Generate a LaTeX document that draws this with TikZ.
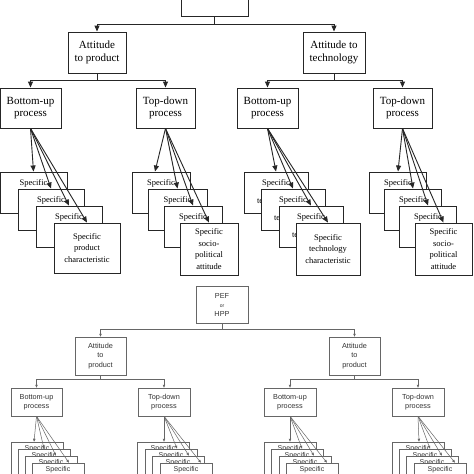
\documentclass[tikz,border=0pt]{standalone}
\usepackage{fontspec}
\setmainfont{Liberation Serif}
\newfontfamily\sansf{Liberation Sans}
\usetikzlibrary{arrows.meta}
\newcommand{\techstub}{\rlap{te}\phantom{technology}}
\begin{document}
\begin{tikzpicture}[x=1pt,y=-1pt,
  box/.style={draw=black!85, fill=white, line width=0.9pt, inner sep=0pt, align=center, font=\fontsize{11}{12.5}\selectfont},
  sbox/.style={box, font=\fontsize{8.5}{11.5}\selectfont},
  sback/.style={sbox, minimum height=41pt, text height=6pt, text depth=21pt},
  tback/.style={sbox, minimum height=41pt},
  line/.style={draw=black!85, line width=0.9pt},
  arr/.style={line, -{Triangle[length=6pt,width=5pt]}},
  bbox/.style={draw=black!60, fill=white, line width=0.5pt, inner sep=0pt, align=center, text=black!80, font=\sansf\fontsize{7.3}{9.5}\selectfont},
  qback/.style={bbox, minimum width=52pt, minimum height=40pt, text height=5pt, text depth=29pt, font=\sansf\fontsize{7}{9}\selectfont},
  bline/.style={draw=black!60, line width=0.5pt},
  barr/.style={bline, -{Triangle[length=3pt,width=2.4pt]}}
]
\useasboundingbox (0,0) rectangle (474,474);
\clip (0,0) rectangle (474,474);
\fill[white] (0,0) rectangle (474,474);

% ---------- upper figure ----------
\node[box, minimum width=67pt, minimum height=32pt] (root) at (214.5,0) {};
\node[box, minimum width=58pt, minimum height=41pt] (ap) at (97,52.5) {Attitude\\to product};
\node[box, minimum width=62pt, minimum height=41pt] (at) at (334,52.5) {Attitude to\\technology};
\node[box, minimum width=61pt, minimum height=40pt] (bu1) at (30.5,108) {Bottom-up\\process};
\node[box, minimum width=59pt, minimum height=40pt] (td1) at (165.5,108) {Top-down\\process};
\node[box, minimum width=61pt, minimum height=40pt] (bu2) at (267.5,108) {Bottom-up\\process};
\node[box, minimum width=59pt, minimum height=40pt] (td2) at (402.5,108) {Top-down\\process};

\draw[line] (root.south) -- ++(0,8) coordinate (j0);
\draw[arr] (j0) -| (ap.north);
\draw[arr] (j0) -| (at.north);
\draw[line] (ap.south) -- ++(0,7) coordinate (j1);
\draw[arr] (j1) -| (bu1.north);
\draw[arr] (j1) -| (td1.north);
\draw[line] (at.south) -- ++(0,7) coordinate (j2);
\draw[arr] (j2) -| (bu2.north);
\draw[arr] (j2) -| (td2.north);

% product characteristics
\node[sback, minimum width=67pt] (p1) at (33.5,192.5) {Specific};
\node[sback, minimum width=66pt] (p2) at (51,209.5) {Specific};
\node[sback, minimum width=66pt] (p3) at (69,226.5) {Specific};
\node[sbox, minimum width=66pt, minimum height=50pt] (p4) at (87,248) {Specific\\product\\characteristic};
% socio-political (left)
\node[sback, minimum width=58pt] (s1) at (161,192.5) {Specific};
\node[sback, minimum width=59pt] (s2) at (177.5,209.5) {Specific};
\node[sback, minimum width=58pt] (s3) at (193,226.5) {Specific};
\node[sbox, minimum width=58pt, minimum height=52pt] (s4) at (209,249) {Specific\\socio-\\political\\attitude};
% technology characteristics
\node[tback, minimum width=64pt] (t1) at (276,192.5) {Specific\\[7pt]\techstub};
\node[tback, minimum width=64pt] (t2) at (293,209.5) {Specific\\[7pt]\techstub};
\node[tback, minimum width=64pt] (t3) at (311,226.5) {Specific\\[7pt]\techstub};
\node[sbox, minimum width=64pt, minimum height=52pt] (t4) at (328,249) {Specific\\technology\\characteristic};
% socio-political (right)
\node[sback, minimum width=57pt] (u1) at (398,192.5) {Specific};
\node[sback, minimum width=57pt] (u2) at (413,209.5) {Specific};
\node[sback, minimum width=57pt] (u3) at (428,226.5) {Specific};
\node[sbox, minimum width=57pt, minimum height=52pt] (u4) at (443.5,249) {Specific\\socio-\\political\\attitude};

\draw[arr] (bu1.south) -- (p1.north);
\draw[arr] (bu1.south) -- (p2.north);
\draw[arr] (bu1.south) -- (p3.north);
\draw[arr] (bu1.south) -- (p4.north);
\draw[arr] (td1.south) -- ([xshift=-6pt]s1.north);
\draw[arr] (td1.south) -- (s2.north);
\draw[arr] (td1.south) -- (s3.north);
\draw[arr] (td1.south) -- (s4.north);
\draw[arr] (bu2.south) -- (t1.north);
\draw[arr] (bu2.south) -- (t2.north);
\draw[arr] (bu2.south) -- (t3.north);
\draw[arr] (bu2.south) -- (t4.north);
\draw[arr] (td2.south) -- (u1.north);
\draw[arr] (td2.south) -- (u2.north);
\draw[arr] (td2.south) -- (u3.north);
\draw[arr] (td2.south) -- (u4.north);

% ---------- lower figure ----------
\node[bbox, minimum width=52pt, minimum height=37pt, font=\sansf\fontsize{7.3}{9}\selectfont] (pef) at (222,304.5) {PEF\\{\fontsize{5}{9}\selectfont or}\\HPP};
\node[bbox, minimum width=51pt, minimum height=38pt] (bap1) at (100.5,356) {Attitude\\to\\product};
\node[bbox, minimum width=51pt, minimum height=38pt] (bap2) at (354.5,356) {Attitude\\to\\product};
\node[bbox, minimum width=51pt, minimum height=28pt] (bbu1) at (36.5,402) {Bottom-up\\process};
\node[bbox, minimum width=52pt, minimum height=28pt] (btd1) at (164,402) {Top-down\\process};
\node[bbox, minimum width=52pt, minimum height=28pt] (bbu2) at (290,402) {Bottom-up\\process};
\node[bbox, minimum width=52pt, minimum height=28pt] (btd2) at (418,402) {Top-down\\process};

\draw[bline] (pef.south) -- ++(0,6) coordinate (k0);
\draw[barr] (k0) -| (bap1.north);
\draw[barr] (k0) -| (bap2.north);
\draw[bline] (bap1.south) -- ++(0,4) coordinate (k1);
\draw[barr] (k1) -| (bbu1.north);
\draw[barr] (k1) -| (btd1.north);
\draw[bline] (bap2.south) -- ++(0,4) coordinate (k2);
\draw[barr] (k2) -| (bbu2.north);
\draw[barr] (k2) -| (btd2.north);

\node[qback] (q1) at (37,462) {Specific};
\node[qback] (q2) at (44,469) {Specific};
\node[qback] (q3) at (51,476) {Specific};
\node[qback] (q4) at (58,483) {Specific};
\node[qback] (r1) at (163,462) {Specific};
\node[qback] (r2) at (171,469) {Specific};
\node[qback] (r3) at (178,476) {Specific};
\node[qback] (r4) at (186,483) {Specific};
\node[qback] (v1) at (290,462) {Specific};
\node[qback] (v2) at (297,469) {Specific};
\node[qback] (v3) at (305,476) {Specific};
\node[qback] (v4) at (312,483) {Specific};
\node[qback] (w1) at (418,462) {Specific};
\node[qback] (w2) at (425,469) {Specific};
\node[qback] (w3) at (432,476) {Specific};
\node[qback] (w4) at (440,483) {Specific};

\draw[barr] (bbu1.south) -- ([xshift=-3pt]q1.north);
\draw[barr] (bbu1.south) -- (q2.north);
\draw[barr] (bbu1.south) -- ([xshift=5pt]q3.north);
\draw[barr] (bbu1.south) -- ([xshift=11pt]q4.north);
\draw[barr] (btd1.south) -- ([xshift=1pt]r1.north);
\draw[barr] (btd1.south) -- ([xshift=6pt]r2.north);
\draw[barr] (btd1.south) -- ([xshift=11pt]r3.north);
\draw[barr] (btd1.south) -- ([xshift=15pt]r4.north);
\draw[barr] (bbu2.south) -- (v1.north);
\draw[barr] (bbu2.south) -- ([xshift=5pt]v2.north);
\draw[barr] (bbu2.south) -- ([xshift=9pt]v3.north);
\draw[barr] (bbu2.south) -- ([xshift=15pt]v4.north);
\draw[barr] (btd2.south) -- ([xshift=1pt]w1.north);
\draw[barr] (btd2.south) -- ([xshift=5pt]w2.north);
\draw[barr] (btd2.south) -- ([xshift=10pt]w3.north);
\draw[barr] (btd2.south) -- ([xshift=15pt]w4.north);
\end{tikzpicture}
\end{document}
